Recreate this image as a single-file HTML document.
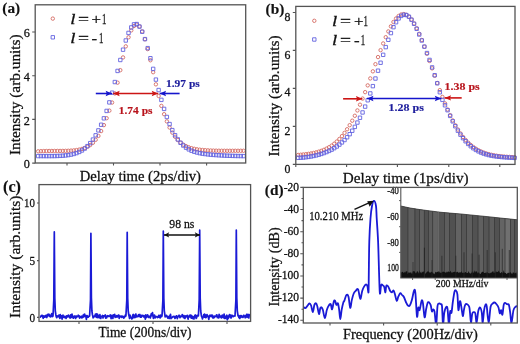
<!DOCTYPE html>
<html><head><meta charset="utf-8"><style>html,body{margin:0;padding:0;background:#fff;width:520px;height:344px;overflow:hidden}svg{display:block}</style></head>
<body><svg width="520" height="344" viewBox="0 0 520 344" font-family="'Liberation Serif','Times New Roman',serif"><path d="M36.47,151.31a1.7,1.7 0 1,0 3.4,0a1.7,1.7 0 1,0 -3.4,0M39.20,151.17a1.7,1.7 0 1,0 3.4,0a1.7,1.7 0 1,0 -3.4,0M41.94,151.08a1.7,1.7 0 1,0 3.4,0a1.7,1.7 0 1,0 -3.4,0M44.68,151.01a1.7,1.7 0 1,0 3.4,0a1.7,1.7 0 1,0 -3.4,0M47.42,150.97a1.7,1.7 0 1,0 3.4,0a1.7,1.7 0 1,0 -3.4,0M50.16,150.95a1.7,1.7 0 1,0 3.4,0a1.7,1.7 0 1,0 -3.4,0M52.89,150.94a1.7,1.7 0 1,0 3.4,0a1.7,1.7 0 1,0 -3.4,0M55.63,150.93a1.7,1.7 0 1,0 3.4,0a1.7,1.7 0 1,0 -3.4,0M58.37,150.92a1.7,1.7 0 1,0 3.4,0a1.7,1.7 0 1,0 -3.4,0M61.11,150.89a1.7,1.7 0 1,0 3.4,0a1.7,1.7 0 1,0 -3.4,0M63.85,150.84a1.7,1.7 0 1,0 3.4,0a1.7,1.7 0 1,0 -3.4,0M66.58,150.75a1.7,1.7 0 1,0 3.4,0a1.7,1.7 0 1,0 -3.4,0M69.32,150.60a1.7,1.7 0 1,0 3.4,0a1.7,1.7 0 1,0 -3.4,0M72.06,150.38a1.7,1.7 0 1,0 3.4,0a1.7,1.7 0 1,0 -3.4,0M74.80,150.05a1.7,1.7 0 1,0 3.4,0a1.7,1.7 0 1,0 -3.4,0M77.54,149.59a1.7,1.7 0 1,0 3.4,0a1.7,1.7 0 1,0 -3.4,0M80.27,148.92a1.7,1.7 0 1,0 3.4,0a1.7,1.7 0 1,0 -3.4,0M83.01,148.00a1.7,1.7 0 1,0 3.4,0a1.7,1.7 0 1,0 -3.4,0M85.75,146.74a1.7,1.7 0 1,0 3.4,0a1.7,1.7 0 1,0 -3.4,0M88.49,145.04a1.7,1.7 0 1,0 3.4,0a1.7,1.7 0 1,0 -3.4,0M91.23,142.76a1.7,1.7 0 1,0 3.4,0a1.7,1.7 0 1,0 -3.4,0M93.96,139.78a1.7,1.7 0 1,0 3.4,0a1.7,1.7 0 1,0 -3.4,0M96.70,135.93a1.7,1.7 0 1,0 3.4,0a1.7,1.7 0 1,0 -3.4,0M99.44,131.07a1.7,1.7 0 1,0 3.4,0a1.7,1.7 0 1,0 -3.4,0M102.18,125.10a1.7,1.7 0 1,0 3.4,0a1.7,1.7 0 1,0 -3.4,0M104.92,118.20a1.7,1.7 0 1,0 3.4,0a1.7,1.7 0 1,0 -3.4,0M107.65,110.63a1.7,1.7 0 1,0 3.4,0a1.7,1.7 0 1,0 -3.4,0M110.39,102.54a1.7,1.7 0 1,0 3.4,0a1.7,1.7 0 1,0 -3.4,0M113.13,93.42a1.7,1.7 0 1,0 3.4,0a1.7,1.7 0 1,0 -3.4,0M115.87,82.67a1.7,1.7 0 1,0 3.4,0a1.7,1.7 0 1,0 -3.4,0M118.61,70.16a1.7,1.7 0 1,0 3.4,0a1.7,1.7 0 1,0 -3.4,0M121.34,57.44a1.7,1.7 0 1,0 3.4,0a1.7,1.7 0 1,0 -3.4,0M124.08,46.37a1.7,1.7 0 1,0 3.4,0a1.7,1.7 0 1,0 -3.4,0M126.82,37.28a1.7,1.7 0 1,0 3.4,0a1.7,1.7 0 1,0 -3.4,0M129.56,30.40a1.7,1.7 0 1,0 3.4,0a1.7,1.7 0 1,0 -3.4,0M132.30,26.02a1.7,1.7 0 1,0 3.4,0a1.7,1.7 0 1,0 -3.4,0M135.03,24.59a1.7,1.7 0 1,0 3.4,0a1.7,1.7 0 1,0 -3.4,0M137.77,26.44a1.7,1.7 0 1,0 3.4,0a1.7,1.7 0 1,0 -3.4,0M140.51,31.48a1.7,1.7 0 1,0 3.4,0a1.7,1.7 0 1,0 -3.4,0M143.25,39.25a1.7,1.7 0 1,0 3.4,0a1.7,1.7 0 1,0 -3.4,0M145.99,49.08a1.7,1.7 0 1,0 3.4,0a1.7,1.7 0 1,0 -3.4,0M148.72,60.27a1.7,1.7 0 1,0 3.4,0a1.7,1.7 0 1,0 -3.4,0M151.46,72.20a1.7,1.7 0 1,0 3.4,0a1.7,1.7 0 1,0 -3.4,0M154.20,84.34a1.7,1.7 0 1,0 3.4,0a1.7,1.7 0 1,0 -3.4,0M156.94,96.00a1.7,1.7 0 1,0 3.4,0a1.7,1.7 0 1,0 -3.4,0M159.68,105.88a1.7,1.7 0 1,0 3.4,0a1.7,1.7 0 1,0 -3.4,0M162.41,114.19a1.7,1.7 0 1,0 3.4,0a1.7,1.7 0 1,0 -3.4,0M165.15,121.39a1.7,1.7 0 1,0 3.4,0a1.7,1.7 0 1,0 -3.4,0M167.89,127.51a1.7,1.7 0 1,0 3.4,0a1.7,1.7 0 1,0 -3.4,0M170.63,132.59a1.7,1.7 0 1,0 3.4,0a1.7,1.7 0 1,0 -3.4,0M173.37,136.72a1.7,1.7 0 1,0 3.4,0a1.7,1.7 0 1,0 -3.4,0M176.10,140.02a1.7,1.7 0 1,0 3.4,0a1.7,1.7 0 1,0 -3.4,0M178.84,142.62a1.7,1.7 0 1,0 3.4,0a1.7,1.7 0 1,0 -3.4,0M181.58,144.63a1.7,1.7 0 1,0 3.4,0a1.7,1.7 0 1,0 -3.4,0M184.32,146.16a1.7,1.7 0 1,0 3.4,0a1.7,1.7 0 1,0 -3.4,0M187.06,147.30a1.7,1.7 0 1,0 3.4,0a1.7,1.7 0 1,0 -3.4,0M189.79,148.16a1.7,1.7 0 1,0 3.4,0a1.7,1.7 0 1,0 -3.4,0M192.53,148.81a1.7,1.7 0 1,0 3.4,0a1.7,1.7 0 1,0 -3.4,0M195.27,149.30a1.7,1.7 0 1,0 3.4,0a1.7,1.7 0 1,0 -3.4,0M198.01,149.68a1.7,1.7 0 1,0 3.4,0a1.7,1.7 0 1,0 -3.4,0M200.75,149.97a1.7,1.7 0 1,0 3.4,0a1.7,1.7 0 1,0 -3.4,0M203.48,150.19a1.7,1.7 0 1,0 3.4,0a1.7,1.7 0 1,0 -3.4,0M206.22,150.37a1.7,1.7 0 1,0 3.4,0a1.7,1.7 0 1,0 -3.4,0M208.96,150.50a1.7,1.7 0 1,0 3.4,0a1.7,1.7 0 1,0 -3.4,0M211.70,150.60a1.7,1.7 0 1,0 3.4,0a1.7,1.7 0 1,0 -3.4,0M214.44,150.67a1.7,1.7 0 1,0 3.4,0a1.7,1.7 0 1,0 -3.4,0M217.17,150.73a1.7,1.7 0 1,0 3.4,0a1.7,1.7 0 1,0 -3.4,0M219.91,150.76a1.7,1.7 0 1,0 3.4,0a1.7,1.7 0 1,0 -3.4,0M222.65,150.78a1.7,1.7 0 1,0 3.4,0a1.7,1.7 0 1,0 -3.4,0M225.39,150.79a1.7,1.7 0 1,0 3.4,0a1.7,1.7 0 1,0 -3.4,0M228.13,150.79a1.7,1.7 0 1,0 3.4,0a1.7,1.7 0 1,0 -3.4,0M230.86,150.79a1.7,1.7 0 1,0 3.4,0a1.7,1.7 0 1,0 -3.4,0M233.60,150.78a1.7,1.7 0 1,0 3.4,0a1.7,1.7 0 1,0 -3.4,0M236.34,150.77a1.7,1.7 0 1,0 3.4,0a1.7,1.7 0 1,0 -3.4,0M239.08,150.77a1.7,1.7 0 1,0 3.4,0a1.7,1.7 0 1,0 -3.4,0M241.82,150.77a1.7,1.7 0 1,0 3.4,0a1.7,1.7 0 1,0 -3.4,0" fill="none" stroke="#d56a62" stroke-width="0.9"/><path d="M36.47,154.39h3.4v3.4h-3.4zM39.20,154.38h3.4v3.4h-3.4zM41.94,154.38h3.4v3.4h-3.4zM44.68,154.39h3.4v3.4h-3.4zM47.42,154.39h3.4v3.4h-3.4zM50.16,154.37h3.4v3.4h-3.4zM52.89,154.34h3.4v3.4h-3.4zM55.63,154.27h3.4v3.4h-3.4zM58.37,154.16h3.4v3.4h-3.4zM61.11,153.99h3.4v3.4h-3.4zM63.85,153.74h3.4v3.4h-3.4zM66.58,153.39h3.4v3.4h-3.4zM69.32,152.91h3.4v3.4h-3.4zM72.06,152.26h3.4v3.4h-3.4zM74.80,151.39h3.4v3.4h-3.4zM77.54,150.25h3.4v3.4h-3.4zM80.27,148.77h3.4v3.4h-3.4zM83.01,146.85h3.4v3.4h-3.4zM85.75,144.43h3.4v3.4h-3.4zM88.49,141.45h3.4v3.4h-3.4zM91.23,137.86h3.4v3.4h-3.4zM93.96,133.62h3.4v3.4h-3.4zM96.70,128.69h3.4v3.4h-3.4zM99.44,123.05h3.4v3.4h-3.4zM102.18,116.63h3.4v3.4h-3.4zM104.92,109.23h3.4v3.4h-3.4zM107.65,100.70h3.4v3.4h-3.4zM110.39,90.99h3.4v3.4h-3.4zM113.13,80.34h3.4v3.4h-3.4zM115.87,69.23h3.4v3.4h-3.4zM118.61,58.29h3.4v3.4h-3.4zM121.34,47.99h3.4v3.4h-3.4zM124.08,38.79h3.4v3.4h-3.4zM126.82,31.22h3.4v3.4h-3.4zM129.56,25.72h3.4v3.4h-3.4zM132.30,22.67h3.4v3.4h-3.4zM135.03,22.35h3.4v3.4h-3.4zM137.77,24.88h3.4v3.4h-3.4zM140.51,30.04h3.4v3.4h-3.4zM143.25,37.41h3.4v3.4h-3.4zM145.99,46.43h3.4v3.4h-3.4zM148.72,56.53h3.4v3.4h-3.4zM151.46,67.18h3.4v3.4h-3.4zM154.20,77.91h3.4v3.4h-3.4zM156.94,88.34h3.4v3.4h-3.4zM159.68,98.18h3.4v3.4h-3.4zM162.41,107.20h3.4v3.4h-3.4zM165.15,115.28h3.4v3.4h-3.4zM167.89,122.35h3.4v3.4h-3.4zM170.63,128.40h3.4v3.4h-3.4zM173.37,133.49h3.4v3.4h-3.4zM176.10,137.69h3.4v3.4h-3.4zM178.84,141.09h3.4v3.4h-3.4zM181.58,143.82h3.4v3.4h-3.4zM184.32,145.98h3.4v3.4h-3.4zM187.06,147.67h3.4v3.4h-3.4zM189.79,148.98h3.4v3.4h-3.4zM192.53,150.01h3.4v3.4h-3.4zM195.27,150.81h3.4v3.4h-3.4zM198.01,151.45h3.4v3.4h-3.4zM200.75,151.95h3.4v3.4h-3.4zM203.48,152.36h3.4v3.4h-3.4zM206.22,152.69h3.4v3.4h-3.4zM208.96,152.97h3.4v3.4h-3.4zM211.70,153.21h3.4v3.4h-3.4zM214.44,153.41h3.4v3.4h-3.4zM217.17,153.59h3.4v3.4h-3.4zM219.91,153.74h3.4v3.4h-3.4zM222.65,153.88h3.4v3.4h-3.4zM225.39,153.99h3.4v3.4h-3.4zM228.13,154.09h3.4v3.4h-3.4zM230.86,154.18h3.4v3.4h-3.4zM233.60,154.25h3.4v3.4h-3.4zM236.34,154.31h3.4v3.4h-3.4zM239.08,154.36h3.4v3.4h-3.4zM241.82,154.40h3.4v3.4h-3.4z" fill="none" stroke="#6262e0" stroke-width="0.9"/><rect x="35.2" y="4.8" width="210.5" height="158.2" fill="none" stroke="#545454" stroke-width="1.3"/><path d="M32.2,163.1H35.2M32.2,119.4H35.2M32.2,75.8H35.2M32.2,32.0H35.2" stroke="#545454" stroke-width="1.1" fill="none"/><path d="M67.0,163.0V165.5M113.5,163.0V165.5M160.0,163.0V165.5M206.6,163.0V165.5" stroke="#545454" stroke-width="1.1" fill="none"/><text x="29.9" y="168.2" font-size="12.2" text-anchor="end" font-weight="normal" fill="#111" stroke="#111" stroke-width="0.28" >0</text><text x="29.9" y="124.8" font-size="12.2" text-anchor="end" font-weight="normal" fill="#111" stroke="#111" stroke-width="0.28" >2</text><text x="29.9" y="81.2" font-size="12.2" text-anchor="end" font-weight="normal" fill="#111" stroke="#111" stroke-width="0.28" >4</text><text x="29.9" y="36.6" font-size="12.2" text-anchor="end" font-weight="normal" fill="#111" stroke="#111" stroke-width="0.28" >6</text><text transform="translate(20.3,155.1) rotate(-90)" x="0" y="0" font-size="15.2" fill="#111" stroke="#111" stroke-width="0.28" textLength="120.7" lengthAdjust="spacingAndGlyphs">Intensity (arb.units)</text><text x="79.8" y="180.7" font-size="14.6" text-anchor="start" font-weight="normal" fill="#111" stroke="#111" stroke-width="0.28" textLength="121.2" lengthAdjust="spacingAndGlyphs" >Delay time (2ps/div)</text><text x="2.3" y="13.3" font-size="15.3" text-anchor="start" font-weight="bold" fill="#111" stroke="#111" stroke-width="0.15" >(a)</text><path d="M51.10,18.60a1.7,1.7 0 1,0 3.4,0a1.7,1.7 0 1,0 -3.4,0" fill="none" stroke="#d56a62" stroke-width="0.9"/><path d="M51.10,35.60h3.4v3.4h-3.4z" fill="none" stroke="#6262e0" stroke-width="0.9"/><text x="70.20" y="23.70" font-size="15" fill="#111" stroke="#111" stroke-width="0.28" font-style="italic" textLength="5.2" lengthAdjust="spacingAndGlyphs">l</text><text x="78.00" y="23.70" font-size="15" fill="#111" stroke="#111" stroke-width="0.28" textLength="11.0" lengthAdjust="spacingAndGlyphs">=</text><text x="91.60" y="23.70" font-size="15" fill="#111" stroke="#111" stroke-width="0.28" textLength="9.5" lengthAdjust="spacingAndGlyphs">+</text><text x="102.10" y="23.70" font-size="15" fill="#111" stroke="#111" stroke-width="0.28" textLength="4.4" lengthAdjust="spacingAndGlyphs">1</text><text x="70.20" y="42.60" font-size="15" fill="#111" stroke="#111" stroke-width="0.28" font-style="italic" textLength="5.2" lengthAdjust="spacingAndGlyphs">l</text><text x="78.00" y="42.60" font-size="15" fill="#111" stroke="#111" stroke-width="0.28" textLength="11.0" lengthAdjust="spacingAndGlyphs">=</text><text x="91.60" y="42.60" font-size="15" fill="#111" stroke="#111" stroke-width="0.28" textLength="5.6" lengthAdjust="spacingAndGlyphs">-</text><text x="99.10" y="42.60" font-size="15" fill="#111" stroke="#111" stroke-width="0.28" textLength="4.4" lengthAdjust="spacingAndGlyphs">1</text><line x1="95.8" y1="93.5" x2="112.1" y2="93.5" stroke="#1515cc" stroke-width="1.6"/><path d="M112.1,93.5L105.6,90.8L106.8,93.5L105.6,96.2z" fill="#1515cc"/><line x1="179.6" y1="93.5" x2="159.6" y2="93.5" stroke="#1515cc" stroke-width="1.6"/><path d="M159.6,93.5L166.1,90.8L164.9,93.5L166.1,96.2z" fill="#1515cc"/><line x1="113.2" y1="93.5" x2="158.2" y2="93.5" stroke="#cc1515" stroke-width="1.6"/><path d="M158.2,93.5L151.7,90.8L152.89999999999998,93.5L151.7,96.2z" fill="#cc1515"/><path d="M113.2,93.5L119.7,90.8L118.5,93.5L119.7,96.2z" fill="#cc1515"/><text x="118.8" y="113.7" font-size="11.4" text-anchor="start" font-weight="bold" fill="#b8141c" stroke="#b8141c" stroke-width="0.15" textLength="33.7" lengthAdjust="spacingAndGlyphs" >1.74 ps</text><text x="165.9" y="87.2" font-size="11.4" text-anchor="start" font-weight="bold" fill="#1c1c9c" stroke="#1c1c9c" stroke-width="0.15" textLength="33.9" lengthAdjust="spacingAndGlyphs" >1.97 ps</text><path d="M296.46,154.94a1.7,1.7 0 1,0 3.4,0a1.7,1.7 0 1,0 -3.4,0M299.04,154.73a1.7,1.7 0 1,0 3.4,0a1.7,1.7 0 1,0 -3.4,0M301.61,154.48a1.7,1.7 0 1,0 3.4,0a1.7,1.7 0 1,0 -3.4,0M304.19,154.19a1.7,1.7 0 1,0 3.4,0a1.7,1.7 0 1,0 -3.4,0M306.76,153.84a1.7,1.7 0 1,0 3.4,0a1.7,1.7 0 1,0 -3.4,0M309.34,153.43a1.7,1.7 0 1,0 3.4,0a1.7,1.7 0 1,0 -3.4,0M311.92,152.94a1.7,1.7 0 1,0 3.4,0a1.7,1.7 0 1,0 -3.4,0M314.49,152.35a1.7,1.7 0 1,0 3.4,0a1.7,1.7 0 1,0 -3.4,0M317.07,151.65a1.7,1.7 0 1,0 3.4,0a1.7,1.7 0 1,0 -3.4,0M319.64,150.81a1.7,1.7 0 1,0 3.4,0a1.7,1.7 0 1,0 -3.4,0M322.22,149.81a1.7,1.7 0 1,0 3.4,0a1.7,1.7 0 1,0 -3.4,0M324.80,148.63a1.7,1.7 0 1,0 3.4,0a1.7,1.7 0 1,0 -3.4,0M327.37,147.24a1.7,1.7 0 1,0 3.4,0a1.7,1.7 0 1,0 -3.4,0M329.95,145.62a1.7,1.7 0 1,0 3.4,0a1.7,1.7 0 1,0 -3.4,0M332.52,143.73a1.7,1.7 0 1,0 3.4,0a1.7,1.7 0 1,0 -3.4,0M335.10,141.54a1.7,1.7 0 1,0 3.4,0a1.7,1.7 0 1,0 -3.4,0M337.68,139.02a1.7,1.7 0 1,0 3.4,0a1.7,1.7 0 1,0 -3.4,0M340.25,136.15a1.7,1.7 0 1,0 3.4,0a1.7,1.7 0 1,0 -3.4,0M342.83,132.90a1.7,1.7 0 1,0 3.4,0a1.7,1.7 0 1,0 -3.4,0M345.40,129.26a1.7,1.7 0 1,0 3.4,0a1.7,1.7 0 1,0 -3.4,0M347.98,125.19a1.7,1.7 0 1,0 3.4,0a1.7,1.7 0 1,0 -3.4,0M350.56,120.70a1.7,1.7 0 1,0 3.4,0a1.7,1.7 0 1,0 -3.4,0M353.13,115.78a1.7,1.7 0 1,0 3.4,0a1.7,1.7 0 1,0 -3.4,0M355.71,110.44a1.7,1.7 0 1,0 3.4,0a1.7,1.7 0 1,0 -3.4,0M358.28,104.70a1.7,1.7 0 1,0 3.4,0a1.7,1.7 0 1,0 -3.4,0M360.86,98.58a1.7,1.7 0 1,0 3.4,0a1.7,1.7 0 1,0 -3.4,0M363.44,92.13a1.7,1.7 0 1,0 3.4,0a1.7,1.7 0 1,0 -3.4,0M366.01,85.39a1.7,1.7 0 1,0 3.4,0a1.7,1.7 0 1,0 -3.4,0M368.59,78.43a1.7,1.7 0 1,0 3.4,0a1.7,1.7 0 1,0 -3.4,0M371.16,71.34a1.7,1.7 0 1,0 3.4,0a1.7,1.7 0 1,0 -3.4,0M373.74,64.19a1.7,1.7 0 1,0 3.4,0a1.7,1.7 0 1,0 -3.4,0M376.32,57.09a1.7,1.7 0 1,0 3.4,0a1.7,1.7 0 1,0 -3.4,0M378.89,50.14a1.7,1.7 0 1,0 3.4,0a1.7,1.7 0 1,0 -3.4,0M381.47,43.47a1.7,1.7 0 1,0 3.4,0a1.7,1.7 0 1,0 -3.4,0M384.04,37.20a1.7,1.7 0 1,0 3.4,0a1.7,1.7 0 1,0 -3.4,0M386.62,31.44a1.7,1.7 0 1,0 3.4,0a1.7,1.7 0 1,0 -3.4,0M389.20,26.33a1.7,1.7 0 1,0 3.4,0a1.7,1.7 0 1,0 -3.4,0M391.77,21.98a1.7,1.7 0 1,0 3.4,0a1.7,1.7 0 1,0 -3.4,0M394.35,18.50a1.7,1.7 0 1,0 3.4,0a1.7,1.7 0 1,0 -3.4,0M396.92,15.99a1.7,1.7 0 1,0 3.4,0a1.7,1.7 0 1,0 -3.4,0M399.50,14.51a1.7,1.7 0 1,0 3.4,0a1.7,1.7 0 1,0 -3.4,0M402.08,14.10a1.7,1.7 0 1,0 3.4,0a1.7,1.7 0 1,0 -3.4,0M404.65,14.82a1.7,1.7 0 1,0 3.4,0a1.7,1.7 0 1,0 -3.4,0M407.23,16.66a1.7,1.7 0 1,0 3.4,0a1.7,1.7 0 1,0 -3.4,0M409.80,19.58a1.7,1.7 0 1,0 3.4,0a1.7,1.7 0 1,0 -3.4,0M412.38,23.47a1.7,1.7 0 1,0 3.4,0a1.7,1.7 0 1,0 -3.4,0M414.96,28.26a1.7,1.7 0 1,0 3.4,0a1.7,1.7 0 1,0 -3.4,0M417.53,33.80a1.7,1.7 0 1,0 3.4,0a1.7,1.7 0 1,0 -3.4,0M420.11,39.98a1.7,1.7 0 1,0 3.4,0a1.7,1.7 0 1,0 -3.4,0M422.68,46.66a1.7,1.7 0 1,0 3.4,0a1.7,1.7 0 1,0 -3.4,0M425.26,53.70a1.7,1.7 0 1,0 3.4,0a1.7,1.7 0 1,0 -3.4,0M427.84,60.97a1.7,1.7 0 1,0 3.4,0a1.7,1.7 0 1,0 -3.4,0M430.41,68.35a1.7,1.7 0 1,0 3.4,0a1.7,1.7 0 1,0 -3.4,0M432.99,75.73a1.7,1.7 0 1,0 3.4,0a1.7,1.7 0 1,0 -3.4,0M435.56,83.01a1.7,1.7 0 1,0 3.4,0a1.7,1.7 0 1,0 -3.4,0M438.14,90.10a1.7,1.7 0 1,0 3.4,0a1.7,1.7 0 1,0 -3.4,0M440.72,96.92a1.7,1.7 0 1,0 3.4,0a1.7,1.7 0 1,0 -3.4,0M443.29,103.40a1.7,1.7 0 1,0 3.4,0a1.7,1.7 0 1,0 -3.4,0M445.87,109.50a1.7,1.7 0 1,0 3.4,0a1.7,1.7 0 1,0 -3.4,0M448.44,115.19a1.7,1.7 0 1,0 3.4,0a1.7,1.7 0 1,0 -3.4,0M451.02,120.44a1.7,1.7 0 1,0 3.4,0a1.7,1.7 0 1,0 -3.4,0M453.60,125.23a1.7,1.7 0 1,0 3.4,0a1.7,1.7 0 1,0 -3.4,0M456.17,129.57a1.7,1.7 0 1,0 3.4,0a1.7,1.7 0 1,0 -3.4,0M458.75,133.47a1.7,1.7 0 1,0 3.4,0a1.7,1.7 0 1,0 -3.4,0M461.32,136.95a1.7,1.7 0 1,0 3.4,0a1.7,1.7 0 1,0 -3.4,0M463.90,140.01a1.7,1.7 0 1,0 3.4,0a1.7,1.7 0 1,0 -3.4,0M466.48,142.70a1.7,1.7 0 1,0 3.4,0a1.7,1.7 0 1,0 -3.4,0M469.05,145.04a1.7,1.7 0 1,0 3.4,0a1.7,1.7 0 1,0 -3.4,0M471.63,147.05a1.7,1.7 0 1,0 3.4,0a1.7,1.7 0 1,0 -3.4,0M474.20,148.78a1.7,1.7 0 1,0 3.4,0a1.7,1.7 0 1,0 -3.4,0M476.78,150.25a1.7,1.7 0 1,0 3.4,0a1.7,1.7 0 1,0 -3.4,0M479.36,151.50a1.7,1.7 0 1,0 3.4,0a1.7,1.7 0 1,0 -3.4,0M481.93,152.55a1.7,1.7 0 1,0 3.4,0a1.7,1.7 0 1,0 -3.4,0M484.51,153.43a1.7,1.7 0 1,0 3.4,0a1.7,1.7 0 1,0 -3.4,0M487.08,154.16a1.7,1.7 0 1,0 3.4,0a1.7,1.7 0 1,0 -3.4,0M489.66,154.78a1.7,1.7 0 1,0 3.4,0a1.7,1.7 0 1,0 -3.4,0M492.24,155.28a1.7,1.7 0 1,0 3.4,0a1.7,1.7 0 1,0 -3.4,0M494.81,155.70a1.7,1.7 0 1,0 3.4,0a1.7,1.7 0 1,0 -3.4,0M497.39,156.05a1.7,1.7 0 1,0 3.4,0a1.7,1.7 0 1,0 -3.4,0M499.96,156.34a1.7,1.7 0 1,0 3.4,0a1.7,1.7 0 1,0 -3.4,0M502.54,156.58a1.7,1.7 0 1,0 3.4,0a1.7,1.7 0 1,0 -3.4,0M505.12,156.78a1.7,1.7 0 1,0 3.4,0a1.7,1.7 0 1,0 -3.4,0M507.69,156.94a1.7,1.7 0 1,0 3.4,0a1.7,1.7 0 1,0 -3.4,0M510.27,157.08a1.7,1.7 0 1,0 3.4,0a1.7,1.7 0 1,0 -3.4,0M512.84,157.20a1.7,1.7 0 1,0 3.4,0a1.7,1.7 0 1,0 -3.4,0" fill="none" stroke="#d56a62" stroke-width="0.9"/><path d="M296.46,156.12h3.4v3.4h-3.4zM299.04,156.01h3.4v3.4h-3.4zM301.61,155.82h3.4v3.4h-3.4zM304.19,155.55h3.4v3.4h-3.4zM306.76,155.20h3.4v3.4h-3.4zM309.34,154.78h3.4v3.4h-3.4zM311.92,154.27h3.4v3.4h-3.4zM314.49,153.68h3.4v3.4h-3.4zM317.07,153.01h3.4v3.4h-3.4zM319.64,152.23h3.4v3.4h-3.4zM322.22,151.36h3.4v3.4h-3.4zM324.80,150.36h3.4v3.4h-3.4zM327.37,149.22h3.4v3.4h-3.4zM329.95,147.93h3.4v3.4h-3.4zM332.52,146.46h3.4v3.4h-3.4zM335.10,144.80h3.4v3.4h-3.4zM337.68,142.90h3.4v3.4h-3.4zM340.25,140.75h3.4v3.4h-3.4zM342.83,138.32h3.4v3.4h-3.4zM345.40,135.57h3.4v3.4h-3.4zM347.98,132.49h3.4v3.4h-3.4zM350.56,129.04h3.4v3.4h-3.4zM353.13,125.18h3.4v3.4h-3.4zM355.71,120.86h3.4v3.4h-3.4zM358.28,116.06h3.4v3.4h-3.4zM360.86,110.75h3.4v3.4h-3.4zM363.44,104.92h3.4v3.4h-3.4zM366.01,98.57h3.4v3.4h-3.4zM368.59,91.72h3.4v3.4h-3.4zM371.16,84.44h3.4v3.4h-3.4zM373.74,76.83h3.4v3.4h-3.4zM376.32,68.99h3.4v3.4h-3.4zM378.89,61.04h3.4v3.4h-3.4zM381.47,53.13h3.4v3.4h-3.4zM384.04,45.42h3.4v3.4h-3.4zM386.62,38.11h3.4v3.4h-3.4zM389.20,31.39h3.4v3.4h-3.4zM391.77,25.47h3.4v3.4h-3.4zM394.35,20.53h3.4v3.4h-3.4zM396.92,16.73h3.4v3.4h-3.4zM399.50,14.21h3.4v3.4h-3.4zM402.08,13.08h3.4v3.4h-3.4zM404.65,13.37h3.4v3.4h-3.4zM407.23,15.03h3.4v3.4h-3.4zM409.80,17.98h3.4v3.4h-3.4zM412.38,22.09h3.4v3.4h-3.4zM414.96,27.13h3.4v3.4h-3.4zM417.53,32.80h3.4v3.4h-3.4zM420.11,38.80h3.4v3.4h-3.4zM422.68,44.94h3.4v3.4h-3.4zM425.26,51.34h3.4v3.4h-3.4zM427.84,58.22h3.4v3.4h-3.4zM430.41,65.69h3.4v3.4h-3.4zM432.99,73.50h3.4v3.4h-3.4zM435.56,81.59h3.4v3.4h-3.4zM438.14,90.54h3.4v3.4h-3.4zM440.72,98.18h3.4v3.4h-3.4zM443.29,103.59h3.4v3.4h-3.4zM445.87,108.51h3.4v3.4h-3.4zM448.44,114.20h3.4v3.4h-3.4zM451.02,119.64h3.4v3.4h-3.4zM453.60,124.57h3.4v3.4h-3.4zM456.17,129.02h3.4v3.4h-3.4zM458.75,132.98h3.4v3.4h-3.4zM461.32,136.49h3.4v3.4h-3.4zM463.90,139.57h3.4v3.4h-3.4zM466.48,142.25h3.4v3.4h-3.4zM469.05,144.56h3.4v3.4h-3.4zM471.63,146.55h3.4v3.4h-3.4zM474.20,148.24h3.4v3.4h-3.4zM476.78,149.66h3.4v3.4h-3.4zM479.36,150.86h3.4v3.4h-3.4zM481.93,151.86h3.4v3.4h-3.4zM484.51,152.69h3.4v3.4h-3.4zM487.08,153.38h3.4v3.4h-3.4zM489.66,153.94h3.4v3.4h-3.4zM492.24,154.40h3.4v3.4h-3.4zM494.81,154.78h3.4v3.4h-3.4zM497.39,155.09h3.4v3.4h-3.4zM499.96,155.35h3.4v3.4h-3.4zM502.54,155.56h3.4v3.4h-3.4zM505.12,155.75h3.4v3.4h-3.4zM507.69,155.91h3.4v3.4h-3.4zM510.27,156.05h3.4v3.4h-3.4zM512.84,156.20h3.4v3.4h-3.4z" fill="none" stroke="#6262e0" stroke-width="0.9"/><rect x="295.8" y="6.4" width="219.2" height="158.0" fill="none" stroke="#545454" stroke-width="1.3"/><path d="M292.8,164.4H295.8M292.8,126.4H295.8M292.8,88.4H295.8M292.8,50.4H295.8M292.8,12.5H295.8" stroke="#545454" stroke-width="1.1" fill="none"/><path d="M295.8,164.4V166.9M346.6,164.4V166.9M397.4,164.4V166.9M448.8,164.4V166.9M499.8,164.4V166.9" stroke="#545454" stroke-width="1.1" fill="none"/><text x="290.4" y="172.6" font-size="11.8" text-anchor="end" font-weight="normal" fill="#111" stroke="#111" stroke-width="0.28" >0</text><text x="290.4" y="134.5" font-size="11.8" text-anchor="end" font-weight="normal" fill="#111" stroke="#111" stroke-width="0.28" >2</text><text x="290.4" y="96.4" font-size="11.8" text-anchor="end" font-weight="normal" fill="#111" stroke="#111" stroke-width="0.28" >4</text><text x="290.4" y="58.9" font-size="11.8" text-anchor="end" font-weight="normal" fill="#111" stroke="#111" stroke-width="0.28" >6</text><text x="290.4" y="20.8" font-size="11.8" text-anchor="end" font-weight="normal" fill="#111" stroke="#111" stroke-width="0.28" >8</text><text transform="translate(279.3,156.5) rotate(-90)" x="0" y="0" font-size="15.2" fill="#111" stroke="#111" stroke-width="0.28" textLength="121.2" lengthAdjust="spacingAndGlyphs">Intensity (arb.units)</text><text x="342.8" y="182.5" font-size="15.2" text-anchor="start" font-weight="normal" fill="#111" stroke="#111" stroke-width="0.28" textLength="125.8" lengthAdjust="spacingAndGlyphs" >Delay time (1ps/div)</text><text x="265.6" y="14.0" font-size="15.3" text-anchor="start" font-weight="bold" fill="#111" stroke="#111" stroke-width="0.15" >(b)</text><path d="M312.60,20.80a1.7,1.7 0 1,0 3.4,0a1.7,1.7 0 1,0 -3.4,0" fill="none" stroke="#d56a62" stroke-width="0.9"/><path d="M312.60,37.80h3.4v3.4h-3.4z" fill="none" stroke="#6262e0" stroke-width="0.9"/><text x="331.90" y="26.20" font-size="15" fill="#111" stroke="#111" stroke-width="0.28" font-style="italic" textLength="5.2" lengthAdjust="spacingAndGlyphs">l</text><text x="339.90" y="26.20" font-size="15" fill="#111" stroke="#111" stroke-width="0.28" textLength="11.0" lengthAdjust="spacingAndGlyphs">=</text><text x="353.90" y="26.20" font-size="15" fill="#111" stroke="#111" stroke-width="0.28" textLength="9.5" lengthAdjust="spacingAndGlyphs">+</text><text x="363.50" y="26.20" font-size="15" fill="#111" stroke="#111" stroke-width="0.28" textLength="4.4" lengthAdjust="spacingAndGlyphs">1</text><text x="331.90" y="45.20" font-size="15" fill="#111" stroke="#111" stroke-width="0.28" font-style="italic" textLength="5.2" lengthAdjust="spacingAndGlyphs">l</text><text x="339.90" y="45.20" font-size="15" fill="#111" stroke="#111" stroke-width="0.28" textLength="11.0" lengthAdjust="spacingAndGlyphs">=</text><text x="353.90" y="45.20" font-size="15" fill="#111" stroke="#111" stroke-width="0.28" textLength="5.6" lengthAdjust="spacingAndGlyphs">-</text><text x="360.80" y="45.20" font-size="15" fill="#111" stroke="#111" stroke-width="0.28" textLength="4.4" lengthAdjust="spacingAndGlyphs">1</text><line x1="343.1" y1="98.8" x2="362.4" y2="98.8" stroke="#cc1515" stroke-width="1.6"/><path d="M362.4,98.8L355.9,96.1L357.09999999999997,98.8L355.9,101.5z" fill="#cc1515"/><line x1="461.7" y1="97.9" x2="444.6" y2="97.9" stroke="#cc1515" stroke-width="1.6"/><path d="M444.6,97.9L451.1,95.2L449.90000000000003,97.9L451.1,100.60000000000001z" fill="#cc1515"/><line x1="367.0" y1="98.5" x2="441.3" y2="98.5" stroke="#1515cc" stroke-width="1.6"/><path d="M441.3,98.5L434.8,95.8L436.0,98.5L434.8,101.2z" fill="#1515cc"/><path d="M367.0,98.5L373.5,95.8L372.3,98.5L373.5,101.2z" fill="#1515cc"/><text x="444.5" y="90.0" font-size="11.4" text-anchor="start" font-weight="bold" fill="#b8141c" stroke="#b8141c" stroke-width="0.15" textLength="35.2" lengthAdjust="spacingAndGlyphs" >1.38 ps</text><text x="388.6" y="111.3" font-size="11.4" text-anchor="start" font-weight="bold" fill="#1c1c9c" stroke="#1c1c9c" stroke-width="0.15" textLength="35.4" lengthAdjust="spacingAndGlyphs" >1.28 ps</text><polyline points="40.0,316.6 40.5,317.0 40.9,316.3 41.4,315.5 41.8,316.0 42.3,315.4 42.7,316.7 43.2,318.3 43.6,316.0 44.1,315.8 44.5,317.2 45.0,317.0 45.4,316.7 45.9,315.4 46.3,316.6 46.8,317.5 47.2,314.9 47.7,316.0 48.1,314.2 48.6,315.0 49.0,314.3 49.5,316.3 49.9,315.0 50.4,316.9 50.8,316.8 51.3,316.4 51.7,313.5 52.2,315.9 52.6,316.5 53.0,316.0 53.8,300.0 54.3,231.9 54.8,298.0 55.3,311.0 55.9,315.0 56.2,316.6 56.7,317.7 57.1,315.9 57.6,316.5 58.0,316.7 58.5,316.7 58.9,315.1 59.4,316.7 59.8,318.3 60.3,314.7 60.7,317.7 61.2,316.7 61.6,315.8 62.1,319.1 62.5,317.6 63.0,315.1 63.4,316.7 63.9,317.3 64.3,316.4 64.8,317.5 65.2,316.5 65.7,317.4 66.1,318.4 66.6,315.8 67.0,316.9 67.5,316.0 67.9,316.8 68.4,315.1 68.8,315.9 69.3,316.4 69.7,317.7 70.2,318.0 70.6,314.9 71.1,315.6 71.5,317.4 72.0,314.1 72.4,316.0 72.9,316.5 73.3,318.2 73.8,317.5 74.2,316.2 74.7,316.1 75.1,316.3 75.6,318.5 76.0,316.1 76.5,316.2 76.9,317.0 77.4,316.4 77.8,316.4 78.3,315.2 78.7,316.6 79.2,316.0 79.6,318.1 80.1,317.4 80.5,316.6 81.0,317.4 81.4,316.2 81.9,317.9 82.3,316.6 82.8,317.3 83.2,315.0 83.7,317.0 84.1,314.5 84.6,314.1 85.0,316.2 85.5,315.5 85.9,316.8 86.4,319.4 86.8,315.6 87.3,315.8 87.7,316.9 88.2,317.2 88.6,316.4 89.1,316.3 89.6,316.0 90.5,300.0 90.9,233.3 91.4,298.0 91.9,311.0 92.5,315.0 92.7,315.5 93.1,317.8 93.6,316.8 94.0,316.7 94.5,315.9 94.9,316.5 95.4,314.1 95.8,315.2 96.3,317.1 96.7,313.9 97.2,317.7 97.6,314.4 98.1,317.5 98.5,315.5 99.0,317.6 99.4,316.8 99.9,314.7 100.3,318.2 100.8,318.4 101.2,316.5 101.7,316.3 102.1,316.4 102.6,315.4 103.0,318.0 103.5,315.9 103.9,316.5 104.4,315.6 104.8,315.8 105.3,315.0 105.7,318.2 106.2,316.4 106.6,317.8 107.1,316.6 107.5,315.7 108.0,316.2 108.4,315.9 108.9,316.6 109.3,316.1 109.8,316.2 110.2,314.9 110.7,315.6 111.1,318.7 111.6,315.8 112.0,315.3 112.5,317.0 112.9,318.4 113.4,314.8 113.8,316.3 114.3,315.8 114.7,314.4 115.2,317.5 115.6,316.6 116.1,316.7 116.5,315.7 117.0,317.2 117.4,315.9 117.9,316.4 118.3,315.2 118.8,315.1 119.2,318.3 119.7,316.0 120.1,317.0 120.6,316.6 121.0,316.0 121.5,316.0 121.9,317.4 122.4,316.2 122.8,316.4 123.3,316.6 123.7,318.1 124.2,317.5 124.6,317.1 125.1,315.9 125.5,314.9 125.9,316.0 126.8,300.0 127.2,232.3 127.7,298.0 128.2,311.0 128.8,315.0 129.1,316.0 129.6,318.5 130.0,315.0 130.5,317.7 130.9,317.2 131.4,317.7 131.8,318.9 132.3,318.5 132.7,315.2 133.2,314.5 133.6,317.6 134.1,315.3 134.5,316.6 135.0,317.6 135.4,314.5 135.9,314.0 136.3,316.9 136.8,316.7 137.2,316.3 137.7,316.6 138.1,315.5 138.6,314.7 139.0,316.4 139.5,315.4 139.9,314.5 140.4,317.2 140.8,316.5 141.3,317.1 141.7,315.4 142.2,315.8 142.6,315.4 143.1,315.5 143.5,316.8 144.0,315.6 144.4,317.0 144.9,317.0 145.3,319.1 145.8,314.9 146.2,317.7 146.7,316.5 147.1,316.6 147.6,314.8 148.0,316.0 148.5,317.5 148.9,316.5 149.4,316.7 149.8,316.2 150.3,318.0 150.7,316.6 151.2,313.8 151.6,315.7 152.1,314.1 152.5,312.5 153.0,315.9 153.4,318.3 153.9,316.7 154.3,315.1 154.8,315.4 155.2,318.0 155.7,316.8 156.1,316.7 156.6,316.5 157.0,316.6 157.5,317.6 157.9,317.3 158.4,316.9 158.8,315.3 159.3,317.2 159.7,315.7 160.2,318.0 160.6,315.0 161.1,316.4 161.5,316.6 162.0,316.0 162.9,300.0 163.3,231.1 163.8,298.0 164.3,311.0 164.9,315.0 165.1,316.9 165.6,316.5 166.0,316.7 166.5,315.3 166.9,316.3 167.4,316.4 167.8,318.1 168.3,317.0 168.7,316.6 169.2,318.5 169.6,315.9 170.1,316.1 170.5,314.3 171.0,318.6 171.4,317.8 171.9,317.7 172.3,317.4 172.8,316.7 173.2,316.9 173.7,316.3 174.1,316.3 174.6,316.7 175.0,318.5 175.5,317.3 175.9,316.5 176.4,315.9 176.8,315.8 177.3,318.6 177.7,317.2 178.2,316.7 178.6,316.2 179.1,315.2 179.5,316.5 180.0,317.7 180.4,316.1 180.9,316.3 181.3,316.3 181.8,316.7 182.2,314.6 182.7,316.3 183.1,315.5 183.6,317.7 184.0,315.6 184.5,317.3 184.9,318.5 185.4,316.2 185.8,315.8 186.3,316.8 186.7,316.6 187.2,315.4 187.6,317.2 188.1,319.1 188.5,316.3 189.0,316.3 189.4,315.3 189.9,317.0 190.3,315.0 190.8,315.2 191.2,318.2 191.7,315.5 192.1,318.0 192.6,318.5 193.0,316.9 193.5,317.3 193.9,319.0 194.4,316.4 194.8,315.9 195.3,314.9 195.7,316.7 196.2,318.4 196.6,317.8 197.1,315.4 197.5,315.5 198.0,316.0 198.4,316.0 199.2,300.0 199.7,230.2 200.2,298.0 200.7,311.0 201.3,315.0 201.6,316.5 202.0,317.2 202.5,318.9 202.9,317.3 203.4,316.7 203.8,314.5 204.3,317.1 204.7,314.2 205.2,314.8 205.6,317.7 206.1,317.5 206.5,316.4 207.0,314.5 207.4,316.1 207.9,315.8 208.3,317.4 208.8,319.4 209.2,316.9 209.7,315.6 210.1,315.1 210.6,316.5 211.0,316.4 211.5,315.2 211.9,316.7 212.4,315.2 212.8,318.0 213.3,317.9 213.7,318.0 214.2,316.0 214.6,317.2 215.1,316.4 215.5,316.1 216.0,316.2 216.4,315.0 216.9,314.8 217.3,317.6 217.8,316.4 218.2,316.9 218.7,317.9 219.1,314.4 219.6,315.6 220.0,316.8 220.5,317.1 220.9,316.1 221.4,317.9 221.8,316.9 222.3,315.1 222.7,315.4 223.2,317.6 223.6,317.2 224.1,314.2 224.5,318.3 225.0,317.3 225.4,318.3 225.9,316.1 226.3,316.2 226.8,315.2 227.2,319.8 227.7,316.4 228.1,318.6 228.6,315.8 229.0,316.8 229.5,314.5 229.9,316.1 230.4,317.8 230.8,315.0 231.3,317.9 231.7,317.0 232.2,315.3 232.6,316.0 233.1,316.0 233.5,316.5 234.0,315.9 234.4,315.6 235.0,316.0 235.9,300.0 236.3,230.2 236.8,298.0 237.3,311.0 237.9,315.0 238.0,315.8 238.5,315.4 238.9,317.7 239.4,316.0 239.8,318.5 240.3,315.6 240.7,317.1 241.2,316.3 241.6,315.7 242.1,317.3 242.5,316.4 243.0,317.4 243.4,316.5 243.9,315.2 244.3,316.5 244.8,316.7 245.2,317.8 245.7,315.5 246.1,316.6 246.6,314.4 247.0,317.4 247.5,315.2 247.9,314.3 248.4,316.5 248.8,318.0 249.3,314.7 249.7,315.2 250.2,315.7" fill="none" stroke="#1a1ad6" stroke-width="1.7" stroke-linejoin="round"/><rect x="39.0" y="184.6" width="211.6" height="136.79999999999998" fill="none" stroke="#545454" stroke-width="1.3"/><path d="M37.0,317.4H39.0M37.0,260.6H39.0M37.0,203.0H39.0" stroke="#545454" stroke-width="1.1" fill="none"/><path d="M79.0,321.4V323.9M153.0,321.4V323.9M227.0,321.4V323.9" stroke="#545454" stroke-width="1.1" fill="none"/><text x="35.0" y="322.0" font-size="12.8" text-anchor="end" font-weight="normal" fill="#111" stroke="#111" stroke-width="0.28" textLength="5.6" lengthAdjust="spacingAndGlyphs" >0</text><text x="35.0" y="265.0" font-size="12.8" text-anchor="end" font-weight="normal" fill="#111" stroke="#111" stroke-width="0.28" textLength="5.6" lengthAdjust="spacingAndGlyphs" >5</text><text x="35.0" y="207.4" font-size="12.8" text-anchor="end" font-weight="normal" fill="#111" stroke="#111" stroke-width="0.28" textLength="10.9" lengthAdjust="spacingAndGlyphs" >10</text><text transform="translate(19.6,317.9) rotate(-90)" x="0" y="0" font-size="15.2" fill="#111" stroke="#111" stroke-width="0.28" textLength="122.3" lengthAdjust="spacingAndGlyphs">Intensity (arb.units)</text><text x="98.5" y="337.2" font-size="14.5" text-anchor="start" font-weight="normal" fill="#111" stroke="#111" stroke-width="0.28" textLength="93.0" lengthAdjust="spacingAndGlyphs" >Time (200ns/div)</text><text x="3.0" y="192.4" font-size="16.2" text-anchor="start" font-weight="bold" fill="#111" stroke="#111" stroke-width="0.15" >(c)</text><line x1="164.0" y1="234.9" x2="200.0" y2="234.9" stroke="#111" stroke-width="1.5"/><path d="M200.0,234.9L194.8,232.3L196.0,234.9L194.8,237.5z" fill="#111"/><path d="M164.0,234.9L169.2,232.3L168.0,234.9L169.2,237.5z" fill="#111"/><text x="169.3" y="227.8" font-size="13.0" text-anchor="start" font-weight="normal" fill="#111" stroke="#111" stroke-width="0.28" textLength="25.1" lengthAdjust="spacingAndGlyphs" >98 ns</text><clipPath id="dclip"><rect x="303.3" y="187.4" width="213.99999999999994" height="135.6"/></clipPath><path d="M303.30,306.80C303.62,307.02 304.55,308.20 305.20,308.10C305.85,308.00 306.50,306.97 307.20,306.20C307.90,305.43 308.75,303.62 309.40,303.50C310.05,303.38 310.53,304.07 311.10,305.50C311.67,306.93 312.25,312.20 312.80,312.10C313.35,312.00 313.87,306.37 314.40,304.90C314.93,303.43 315.52,303.08 316.00,303.30C316.48,303.52 316.80,304.42 317.30,306.20C317.80,307.98 318.50,313.68 319.00,314.00C319.50,314.32 319.87,309.18 320.30,308.10C320.73,307.02 321.17,307.17 321.60,307.50C322.03,307.83 322.35,308.32 322.90,310.10C323.45,311.88 324.25,318.20 324.90,318.20C325.55,318.20 326.15,312.22 326.80,310.10C327.45,307.98 328.15,306.48 328.80,305.50C329.45,304.52 330.15,303.55 330.70,304.20C331.25,304.85 331.58,309.83 332.10,309.40C332.62,308.97 333.30,303.05 333.80,301.60C334.30,300.15 334.67,300.15 335.10,300.70C335.53,301.25 335.93,304.47 336.40,304.90C336.87,305.33 337.43,302.43 337.90,303.30C338.37,304.17 338.80,307.45 339.20,310.10C339.60,312.75 339.90,319.20 340.30,319.20C340.70,319.20 341.12,312.82 341.60,310.10C342.08,307.38 342.72,304.53 343.20,302.90C343.68,301.27 343.95,301.63 344.50,300.30C345.05,298.97 345.83,295.48 346.50,294.90C347.17,294.32 347.88,294.63 348.50,296.80C349.12,298.97 349.65,307.35 350.20,307.90C350.75,308.45 351.22,302.50 351.80,300.10C352.38,297.70 353.05,295.03 353.70,293.50C354.35,291.97 354.97,291.58 355.70,290.90C356.43,290.22 357.33,288.08 358.10,289.40C358.87,290.72 359.62,298.55 360.30,298.80C360.98,299.05 361.55,292.97 362.20,290.90C362.85,288.83 363.53,287.48 364.20,286.40C364.87,285.32 365.65,284.40 366.20,284.40C366.75,284.40 367.12,285.10 367.50,286.40C367.88,287.70 368.28,294.27 368.50,292.20C368.72,290.13 368.67,282.45 368.80,274.00C368.93,265.55 369.02,250.78 369.30,241.50C369.58,232.22 370.05,224.22 370.50,218.30C370.95,212.38 371.42,208.92 372.00,206.00C372.58,203.08 373.33,200.80 374.00,200.80C374.67,200.80 375.55,203.08 376.00,206.00C376.45,208.92 376.35,212.38 376.70,218.30C377.05,224.22 377.70,232.22 378.10,241.50C378.50,250.78 378.80,265.33 379.10,274.00C379.40,282.67 379.55,291.67 379.90,293.50C380.25,295.33 380.65,286.30 381.20,285.00C381.75,283.70 382.68,285.33 383.20,285.70C383.72,286.07 383.93,286.08 384.30,287.20C384.67,288.32 385.07,292.62 385.40,292.40C385.73,292.18 385.83,286.88 386.30,285.90C386.77,284.92 387.55,285.63 388.20,286.50C388.85,287.37 389.58,290.12 390.20,291.10C390.82,292.08 391.35,292.50 391.90,292.40C392.45,292.30 392.98,290.17 393.50,290.50C394.02,290.83 394.47,292.67 395.00,294.40C395.53,296.13 396.13,300.57 396.70,300.90C397.27,301.23 397.80,297.70 398.40,296.40C399.00,295.10 399.70,293.33 400.30,293.10C400.90,292.87 401.40,294.35 402.00,295.00C402.60,295.65 403.18,295.68 403.90,297.00C404.62,298.32 405.63,301.48 406.30,302.90C406.97,304.32 407.32,305.07 407.90,305.50C408.48,305.93 409.15,306.37 409.80,305.50C410.45,304.63 411.08,302.80 411.80,300.30C412.52,297.80 413.50,291.70 414.10,290.50C414.70,289.30 414.92,288.75 415.40,293.10C415.88,297.45 416.52,314.20 417.00,316.60C417.48,319.00 417.87,308.58 418.30,307.50C418.73,306.42 419.05,311.20 419.60,310.10C420.15,309.00 421.05,302.10 421.60,300.90C422.15,299.70 422.40,300.17 422.90,302.90C423.40,305.63 424.05,316.32 424.60,317.30C425.15,318.28 425.63,311.32 426.20,308.80C426.77,306.28 427.27,302.85 428.00,302.20C428.73,301.55 429.95,303.37 430.60,304.90C431.25,306.43 431.47,310.65 431.90,311.40C432.33,312.15 432.77,309.40 433.20,309.40C433.63,309.40 434.00,308.88 434.50,311.40C435.00,313.92 435.70,325.37 436.20,324.50C436.70,323.63 437.02,309.70 437.50,306.20C437.98,302.70 438.57,303.83 439.10,303.50C439.63,303.17 440.22,303.75 440.70,304.20C441.18,304.65 441.62,302.82 442.00,306.20C442.38,309.58 442.62,323.42 443.00,324.50C443.38,325.58 443.75,315.65 444.30,312.70C444.85,309.75 445.75,307.35 446.30,306.80C446.85,306.25 447.17,306.45 447.60,309.40C448.03,312.35 448.47,324.17 448.90,324.50C449.33,324.83 449.77,313.37 450.20,311.40C450.63,309.43 451.07,314.23 451.50,312.70C451.93,311.17 452.30,305.68 452.80,302.20C453.30,298.72 454.00,293.75 454.50,291.80C455.00,289.85 455.32,290.07 455.80,290.50C456.28,290.93 456.97,291.13 457.40,294.40C457.83,297.67 458.00,308.90 458.40,310.10C458.80,311.30 459.42,302.80 459.80,301.60C460.18,300.40 460.33,301.27 460.70,302.90C461.07,304.53 461.62,309.22 462.00,311.40C462.38,313.58 462.68,316.22 463.00,316.00C463.32,315.78 463.53,311.95 463.90,310.10C464.27,308.25 464.65,305.88 465.20,304.90C465.75,303.92 466.53,303.88 467.20,304.20C467.87,304.52 468.73,305.38 469.20,306.80C469.67,308.22 469.70,310.08 470.00,312.70C470.30,315.32 470.62,322.38 471.00,322.50C471.38,322.62 471.80,315.13 472.30,313.40C472.80,311.67 473.50,312.10 474.00,312.10C474.50,312.10 474.87,311.67 475.30,313.40C475.73,315.13 476.12,322.83 476.60,322.50C477.08,322.17 477.62,313.90 478.20,311.40C478.78,308.90 479.50,307.28 480.10,307.50C480.70,307.72 481.37,310.20 481.80,312.70C482.23,315.20 482.32,322.93 482.70,322.50C483.08,322.07 483.65,313.03 484.10,310.10C484.55,307.17 484.97,305.55 485.40,304.90C485.83,304.25 486.17,303.27 486.70,306.20C487.23,309.13 487.95,322.40 488.60,322.50C489.25,322.60 489.93,309.95 490.60,306.80C491.27,303.65 491.95,304.32 492.60,303.60C493.25,302.88 493.85,302.40 494.50,302.50C495.15,302.60 495.83,303.37 496.50,304.20C497.17,305.03 497.95,305.97 498.50,307.50C499.05,309.03 499.37,312.97 499.80,313.40C500.23,313.83 500.67,309.88 501.10,310.10C501.53,310.32 501.97,315.57 502.40,314.70C502.83,313.83 503.27,306.87 503.70,304.90C504.13,302.93 504.45,303.02 505.00,302.90C505.55,302.78 506.35,303.87 507.00,304.20C507.65,304.53 508.37,303.48 508.90,304.90C509.43,306.32 509.77,309.77 510.20,312.70C510.63,315.63 510.95,322.93 511.50,322.50C512.05,322.07 512.83,312.72 513.50,310.10C514.17,307.48 514.87,307.45 515.50,306.80C516.13,306.15 517.00,306.30 517.30,306.20" fill="none" stroke="#1a1ad6" stroke-width="1.8" stroke-linejoin="round" clip-path="url(#dclip)"/><rect x="400.8" y="187.4" width="116.49999999999994" height="90.6" fill="#fff"/><clipPath id="insclip"><path d="M400.8,278.0L400.8,206.0L410,208.0L420,209.6L430,210.9L440,212.2L450,213.1L460,213.9L470,214.9L480,215.9L490,216.9L500,218.0L510,219.0L517.3,219.8L517.3,278.0z"/></clipPath><path d="M400.8,278.0L400.8,206.0L410,208.0L420,209.6L430,210.9L440,212.2L450,213.1L460,213.9L470,214.9L480,215.9L490,216.9L500,218.0L510,219.0L517.3,219.8L517.3,278.0z" fill="#585858"/><g clip-path="url(#insclip)"><rect x="401.7" y="200" width="6.2" height="78.0" fill="#525252"/><rect x="407.9" y="200" width="7.0" height="78.0" fill="#5e5e5e"/><rect x="414.9" y="200" width="4.6" height="78.0" fill="#545454"/><rect x="419.5" y="200" width="4.9" height="78.0" fill="#606060"/><rect x="424.4" y="200" width="4.1" height="78.0" fill="#505050"/><rect x="428.5" y="200" width="4.1" height="78.0" fill="#5c5c5c"/><rect x="432.6" y="200" width="5.8" height="78.0" fill="#626262"/><rect x="438.4" y="200" width="6.1" height="78.0" fill="#535353"/><rect x="444.5" y="200" width="5.0" height="78.0" fill="#5d5d5d"/><rect x="449.5" y="200" width="6.0" height="78.0" fill="#515151"/><rect x="455.5" y="200" width="6.0" height="78.0" fill="#636363"/><rect x="461.5" y="200" width="5.0" height="78.0" fill="#565656"/><rect x="466.5" y="200" width="6.0" height="78.0" fill="#5e5e5e"/><rect x="472.5" y="200" width="5.5" height="78.0" fill="#525252"/><rect x="478.0" y="200" width="5.5" height="78.0" fill="#606060"/><rect x="483.5" y="200" width="5.5" height="78.0" fill="#555555"/><rect x="489.0" y="200" width="5.5" height="78.0" fill="#5d5d5d"/><rect x="494.5" y="200" width="5.0" height="78.0" fill="#515151"/><rect x="499.5" y="200" width="5.5" height="78.0" fill="#646464"/><rect x="505.0" y="200" width="5.5" height="78.0" fill="#707070"/><rect x="510.5" y="200" width="4.0" height="78.0" fill="#5b5b5b"/><rect x="514.5" y="200" width="2.8" height="78.0" fill="#535353"/><path d="M407.9,200V278.0M414.9,200V278.0M419.5,200V278.0M424.4,200V278.0M428.5,200V278.0M432.6,200V278.0M438.4,200V278.0M444.5,200V278.0M449.5,200V278.0M455.5,200V278.0M461.5,200V278.0M466.5,200V278.0M472.5,200V278.0M478.0,200V278.0M483.5,200V278.0M489.0,200V278.0M494.5,200V278.0M499.5,200V278.0M505.0,200V278.0M510.5,200V278.0M514.5,200V278.0" stroke="#393939" stroke-width="0.8"/></g><polyline points="400.8,206.0 410,208.0 420,209.6 430,210.9 440,212.2 450,213.1 460,213.9 470,214.9 480,215.9 490,216.9 500,218.0 510,219.0 517.3,219.8" fill="none" stroke="#3a3a3a" stroke-width="0.8"/><path d="M400.8,278.0L400.8,271.5L401.5,272.8L402.2,271.8L402.9,271.9L403.6,273.0L404.3,271.8L405.0,272.9L405.7,271.6L406.4,271.4L407.1,270.8L407.8,274.2L408.5,272.2L409.2,272.7L409.9,272.5L410.6,272.6L411.3,272.5L412.0,274.2L412.7,271.6L413.4,271.1L414.1,271.6L414.8,271.3L415.5,273.2L416.2,273.2L416.9,271.6L417.6,271.2L418.3,272.2L419.0,273.8L419.7,270.0L420.4,273.0L421.1,271.5L421.8,273.4L422.5,271.5L423.2,272.2L423.9,271.1L424.6,271.6L425.3,273.7L426.0,273.2L426.7,272.1L427.4,271.7L428.1,270.8L428.8,272.1L429.5,272.5L430.2,272.4L430.9,272.4L431.6,271.5L432.3,272.4L433.0,272.5L433.7,273.7L434.4,274.2L435.1,272.4L435.8,271.8L436.5,272.4L437.2,272.0L437.9,271.8L438.6,272.4L439.3,271.6L440.0,273.0L440.7,272.4L441.4,272.7L442.1,272.3L442.8,271.8L443.5,271.6L444.2,272.3L444.9,272.0L445.6,272.7L446.3,272.5L447.0,271.3L447.7,272.6L448.4,271.3L449.1,271.9L449.8,272.2L450.5,270.6L451.2,272.6L451.9,272.6L452.6,272.4L453.3,272.1L454.0,272.2L454.7,271.6L455.4,272.3L456.1,272.0L456.8,272.6L457.5,271.4L458.2,272.7L458.9,272.6L459.6,272.4L460.3,272.1L461.0,273.0L461.7,271.0L462.4,272.9L463.1,272.7L463.8,272.8L464.5,272.8L465.2,271.9L465.9,272.3L466.6,273.1L467.3,272.9L468.0,272.7L468.7,271.1L469.4,273.0L470.1,273.6L470.8,273.4L471.5,272.7L472.2,271.1L472.9,273.3L473.6,272.4L474.3,270.2L475.0,272.8L475.7,271.2L476.4,271.3L477.1,271.9L477.8,273.6L478.5,272.2L479.2,272.7L479.9,274.1L480.6,273.9L481.3,272.4L482.0,272.3L482.7,271.4L483.4,271.9L484.1,272.9L484.8,272.9L485.5,272.6L486.2,273.4L486.9,271.8L487.6,272.4L488.3,273.2L489.0,273.0L489.7,273.5L490.4,272.9L491.1,272.2L491.8,272.8L492.5,271.6L493.2,271.0L493.9,273.0L494.6,272.5L495.3,272.8L496.0,271.0L496.7,272.2L497.4,272.0L498.1,271.7L498.8,270.5L499.5,272.2L500.2,273.3L500.9,272.8L501.6,272.0L502.3,272.5L503.0,273.2L503.7,270.0L504.4,272.4L505.1,273.0L505.8,273.1L506.5,274.0L507.2,273.5L507.9,272.8L508.6,272.8L509.3,273.2L510.0,272.0L510.7,272.5L511.4,273.3L512.1,274.3L512.8,272.4L513.5,272.5L514.2,272.7L514.9,273.7L515.6,272.5L516.3,273.8L517.0,271.6L517.3,278.0z" fill="#111"/><path d="M424.4,278.0V247.7" stroke="#262626" stroke-width="1.0"/><path d="M441.9,278.0V255.8" stroke="#262626" stroke-width="0.7"/><path d="M455.8,278.0V255.8" stroke="#262626" stroke-width="0.7"/><path d="M464,278.0V252.3" stroke="#262626" stroke-width="0.7"/><path d="M472.1,278.0V253.5" stroke="#262626" stroke-width="0.7"/><path d="M479.1,278.0V254.7" stroke="#262626" stroke-width="0.7"/><path d="M487.2,278.0V250" stroke="#262626" stroke-width="0.7"/><path d="M495.3,278.0V252.3" stroke="#262626" stroke-width="0.7"/><path d="M502.3,278.0V248.8" stroke="#262626" stroke-width="0.7"/><path d="M509.3,278.0V250" stroke="#262626" stroke-width="0.7"/><path d="M413,278.0V262" stroke="#262626" stroke-width="0.6"/><path d="M432,278.0V260" stroke="#262626" stroke-width="0.6"/><path d="M438.4,211.5V271" stroke="#8a8a8a" stroke-width="0.6"/><path d="M400.8,187.4V278.0H517.3" fill="none" stroke="#545454" stroke-width="1.1"/><path d="M399.0,200.6H400.8M399.0,226.7H400.8M399.0,252.4H400.8" stroke="#545454" stroke-width="0.9" fill="none"/><path d="M412.6,278.0V280.0M435.2,278.0V280.0M459.3,278.0V280.0M482.6,278.0V280.0M507.0,278.0V280.0" stroke="#545454" stroke-width="0.9" fill="none"/><text x="398.8" y="193.9" font-size="10.4" text-anchor="end" font-weight="normal" fill="#111" stroke="#111" stroke-width="0.28" textLength="11.5" lengthAdjust="spacingAndGlyphs" >-40</text><text x="398.8" y="219.9" font-size="10.4" text-anchor="end" font-weight="normal" fill="#111" stroke="#111" stroke-width="0.28" textLength="11.5" lengthAdjust="spacingAndGlyphs" >-60</text><text x="398.8" y="245.6" font-size="10.4" text-anchor="end" font-weight="normal" fill="#111" stroke="#111" stroke-width="0.28" textLength="11.5" lengthAdjust="spacingAndGlyphs" >-80</text><text x="398.8" y="271.4" font-size="10.4" text-anchor="end" font-weight="normal" fill="#111" stroke="#111" stroke-width="0.28" textLength="11.5" lengthAdjust="spacingAndGlyphs" >100</text><text x="435.8" y="287.3" font-size="11" text-anchor="start" font-weight="normal" fill="#111" stroke="#111" stroke-width="0.28" textLength="52.5" lengthAdjust="spacingAndGlyphs" >200 MHz/div</text><rect x="303.3" y="187.4" width="213.99999999999994" height="135.6" fill="none" stroke="#545454" stroke-width="1.3"/><path d="M300.3,187.4H303.3M301.5,198.5H303.3M300.3,209.5H303.3M301.5,220.6H303.3M300.3,231.7H303.3M301.5,242.8H303.3M300.3,253.8H303.3M301.5,264.9H303.3M300.3,276.0H303.3M301.5,287.0H303.3M300.3,298.1H303.3M301.5,309.2H303.3M300.3,320.2H303.3" stroke="#545454" stroke-width="1.1" fill="none"/><path d="M330.0,323.0V325.5M383.6,323.0V325.5M437.2,323.0V325.5M490.8,323.0V325.5" stroke="#545454" stroke-width="1.1" fill="none"/><text x="299.0" y="190.6" font-size="11.5" text-anchor="end" font-weight="normal" fill="#111" stroke="#111" stroke-width="0.28" >-20</text><text x="299.0" y="212.74" font-size="11.5" text-anchor="end" font-weight="normal" fill="#111" stroke="#111" stroke-width="0.28" >-40</text><text x="299.0" y="234.88" font-size="11.5" text-anchor="end" font-weight="normal" fill="#111" stroke="#111" stroke-width="0.28" >-60</text><text x="299.0" y="257.02" font-size="11.5" text-anchor="end" font-weight="normal" fill="#111" stroke="#111" stroke-width="0.28" >-80</text><text x="299.0" y="279.16" font-size="11.5" text-anchor="end" font-weight="normal" fill="#111" stroke="#111" stroke-width="0.28" >-100</text><text x="299.0" y="301.3" font-size="11.5" text-anchor="end" font-weight="normal" fill="#111" stroke="#111" stroke-width="0.28" >-120</text><text x="299.0" y="323.44" font-size="11.5" text-anchor="end" font-weight="normal" fill="#111" stroke="#111" stroke-width="0.28" >-140</text><text transform="translate(278.6,306.6) rotate(-90)" x="0" y="0" font-size="14.2" fill="#111" stroke="#111" stroke-width="0.28" textLength="79.3" lengthAdjust="spacingAndGlyphs">Intensity (dB)</text><text x="343.0" y="338.7" font-size="14.6" text-anchor="start" font-weight="normal" fill="#111" stroke="#111" stroke-width="0.28" textLength="134.7" lengthAdjust="spacingAndGlyphs" >Frequency (200Hz/div)</text><text x="264.8" y="194.6" font-size="15.3" text-anchor="start" font-weight="bold" fill="#111" stroke="#111" stroke-width="0.15" >(d)</text><text x="309.2" y="219.9" font-size="12.3" text-anchor="start" font-weight="normal" fill="#111" stroke="#111" stroke-width="0.28" textLength="54" lengthAdjust="spacingAndGlyphs" >10.210 MHz</text><line x1="354.5" y1="209.4" x2="369.5" y2="202.6" stroke="#111" stroke-width="1.4"/><path d="M373.8,200.7L367.2,201.2L369.7,206.7z" fill="#111"/></svg></body></html>
